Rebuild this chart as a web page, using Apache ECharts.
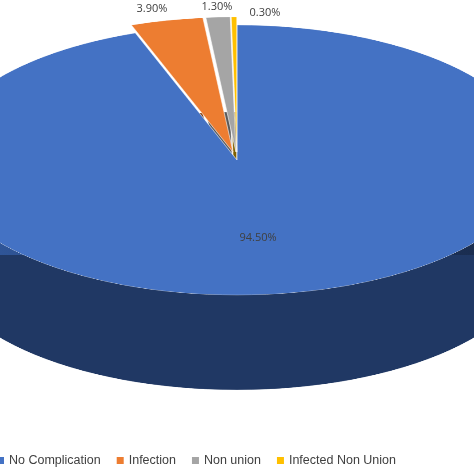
<!DOCTYPE html>
<html><head><meta charset="utf-8">
<script src="https://cdn.jsdelivr.net/npm/echarts@6/dist/echarts.min.js"></script>
<style>
html,body{margin:0;padding:0;width:474px;height:474px;overflow:hidden;background:#fff;font-family:"Open Sans",sans-serif}
.pie{position:absolute;width:640px;height:640px;left:-83px;transform:scaleY(0.45);transform-origin:50% 50%}
#side{position:absolute;left:0;width:474px;top:160px;height:95px;background:linear-gradient(90deg,#2f5597,#203864 60%,#1a2d50)}
#over{position:absolute;left:0;top:0;width:474px;height:474px}
</style></head><body>
<div id="bottom" class="pie" style="top:-65px"></div>
<div id="side"></div>
<div id="top" class="pie" style="top:-160px"></div>
<div id="over"></div>
<script>
const categories=["No Complication","Infection","Non union","Infected Non Union"];
const values=[94.5,3.9,1.3,0.3];
const labels=["94.50%","3.90%","1.30%","0.30%"];
const colors=["#4472C4","#ED7D31","#A5A5A5","#FFC000"];
const darkColors=["#203864","#843C0C","#595959","#7F6000"];
function mk(el,cols){
  const c=echarts.init(document.getElementById(el),null,{renderer:'canvas'});
  c.setOption({animation:false,series:[{type:'pie',radius:[0,300],center:['50%','50%'],startAngle:90,
    selectedMode:'multiple',selectedOffset:18,label:{show:false},labelLine:{show:false},
    itemStyle:{borderColor:'rgba(255,255,255,0.6)',borderWidth:1},
    data:categories.map((n,i)=>({name:n,value:values[i],selected:i>0,itemStyle:{color:cols[i]}}))}]});
}
mk('bottom',darkColors);
mk('top',colors);
const o=echarts.init(document.getElementById('over'));
const pos=[[258,238],[152,9],[217,7],[265,13]];
o.setOption({animation:false,
 legend:{bottom:2,left:-8,itemWidth:7,itemHeight:7,itemGap:16,icon:'rect',textStyle:{fontSize:12.5,color:'#404040'},data:categories},
 series:[{type:'pie',radius:[0,0],center:[-100,-100],label:{show:false},data:categories.map((n,i)=>({name:n,value:values[i],itemStyle:{color:colors[i]}}))}],
 graphic:labels.map((t,i)=>({type:'text',x:pos[i][0],y:pos[i][1],style:{text:t,fill:'#404040',fontSize:11,align:'center',verticalAlign:'middle',fontFamily:'Open Sans'}}))
});
</script></body></html>
